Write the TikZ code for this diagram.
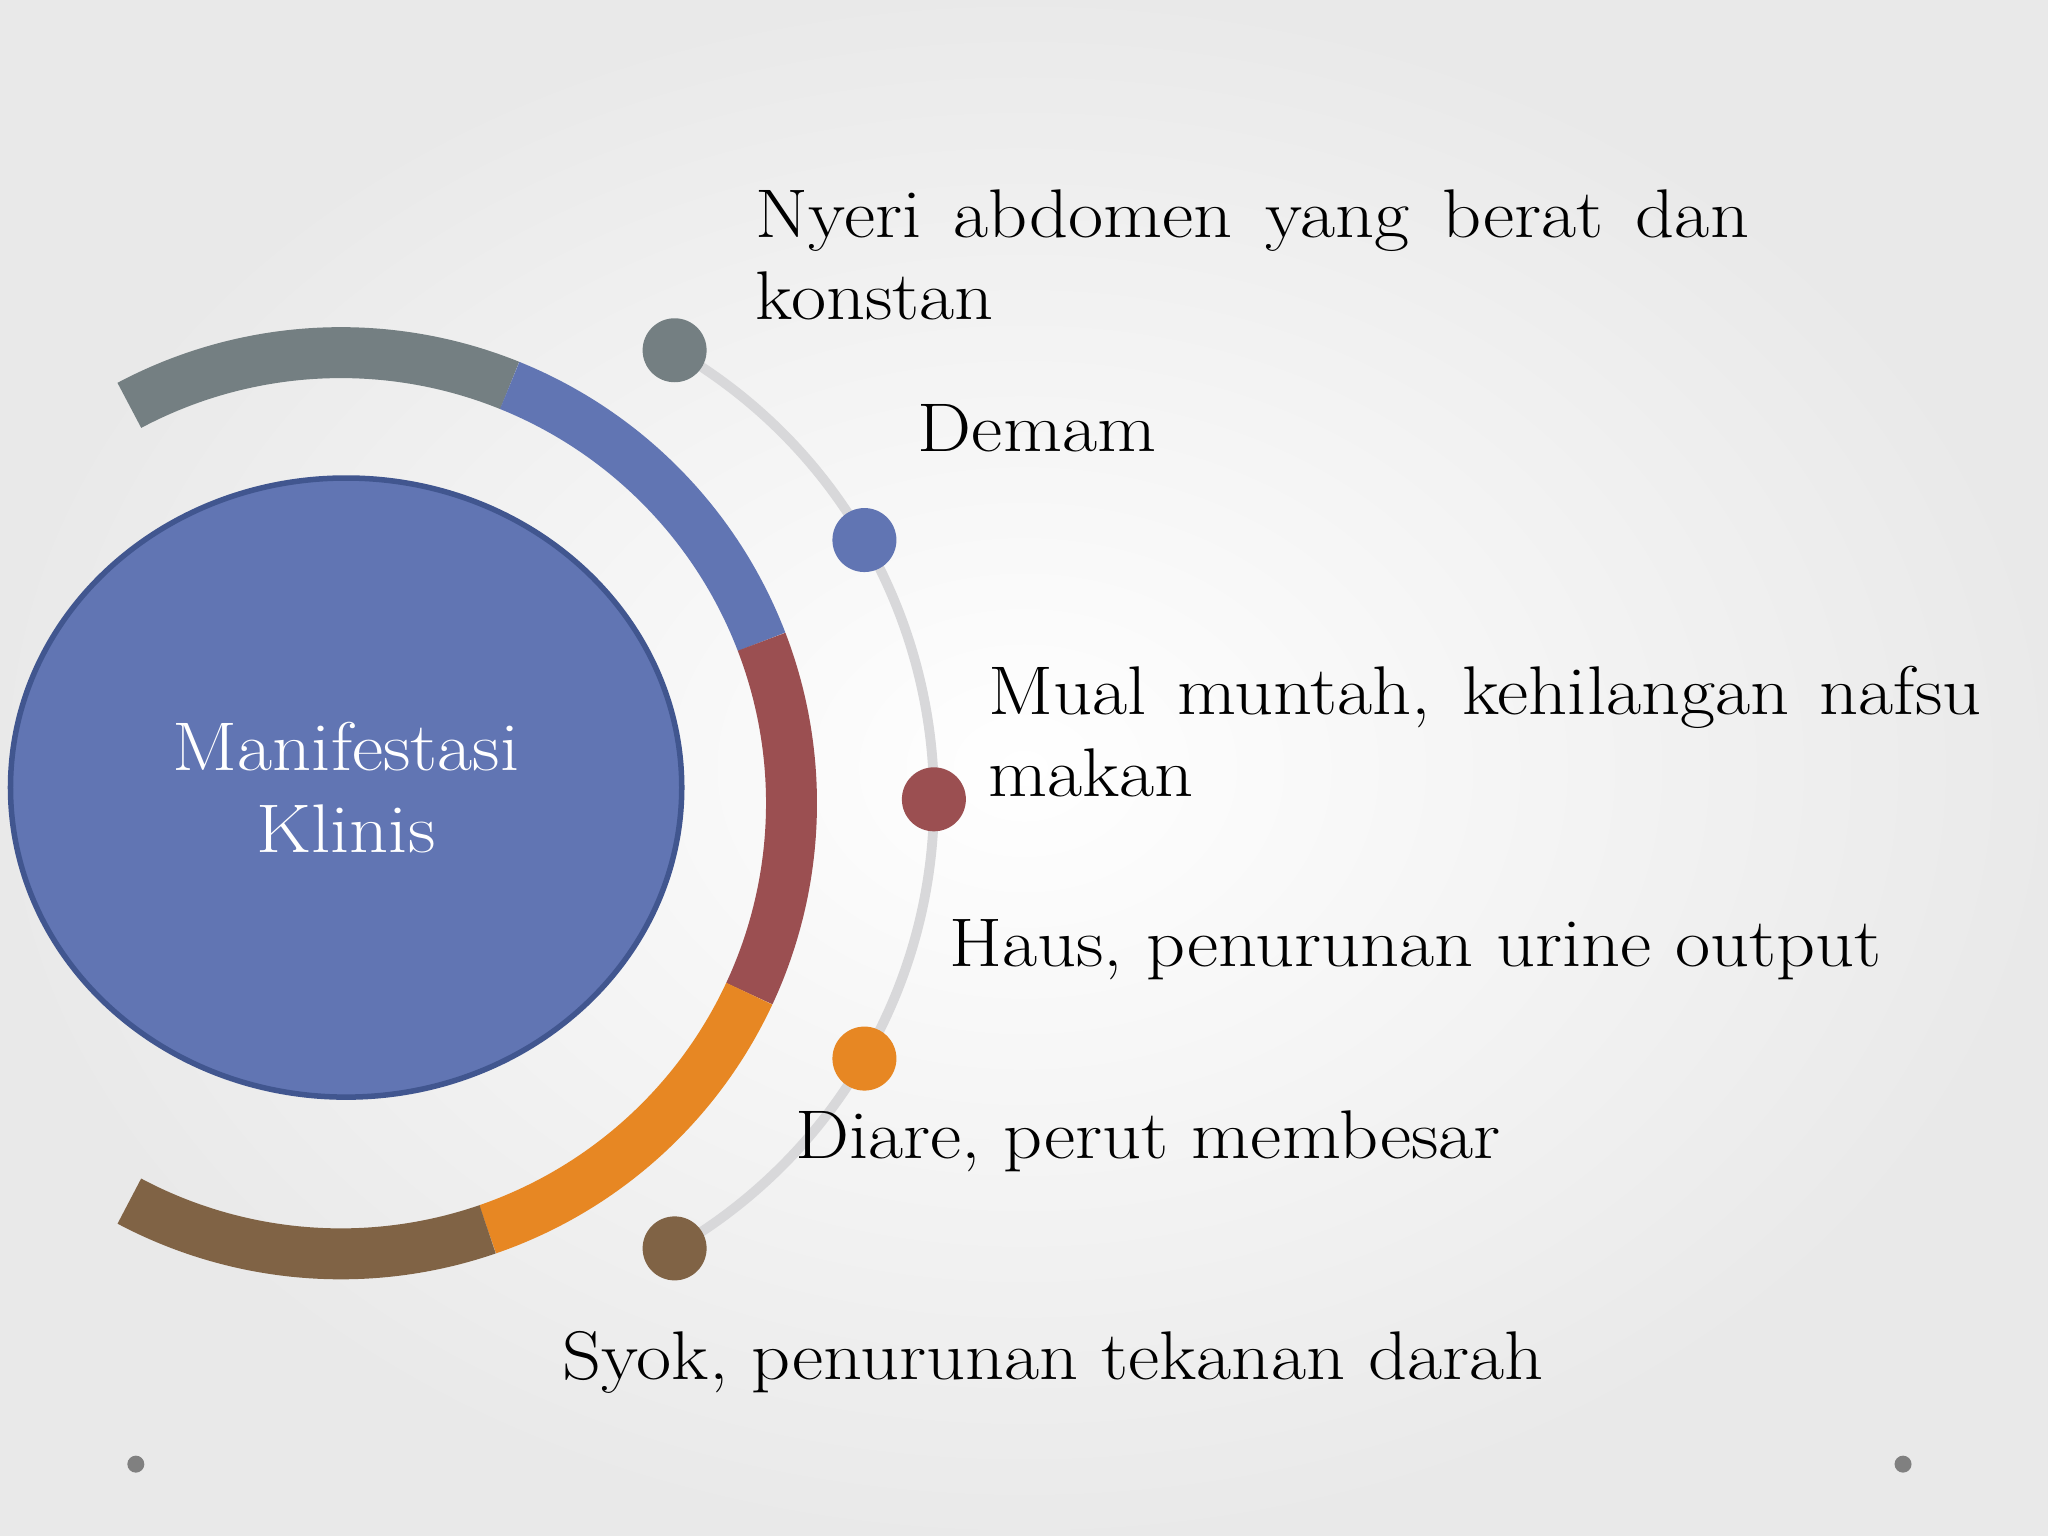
\documentclass[tikz,border=0pt]{standalone}
\usetikzlibrary{shapes.geometric,backgrounds}

\definecolor{slate}{HTML}{747F82}
\definecolor{bluish}{HTML}{6175B3}
\definecolor{bluedark}{HTML}{41568F}
\definecolor{brick}{HTML}{9B4F51}
\definecolor{amber}{HTML}{E78723}
\definecolor{umber}{HTML}{806345}
\definecolor{track}{HTML}{D8D8DA}

\hyphenpenalty=10000
\newcommand\itemfont{\fontsize{15}{17.9}\selectfont}

\tikzstyle{bead}=[circle,inner sep=0pt,minimum size=4.9mm]

\begin{document}
\begin{tikzpicture}[
band/.style={line width=3.9mm, line cap=butt},
trackline/.style={draw=track, line width=0.75mm},
symptom/.style={anchor=base west, inner sep=0pt, font=\itemfont, text=black,
                xscale=1.11, transform shape},
wrapped/.style={symptom, text width=6.85cm, align=justify}]
 \useasboundingbox (0,0) rectangle (15.68,11.76);
 \begin{scope}[on background layer]
 \shade[inner color=white, outer color=gray!17] (0,0) rectangle (15.68,11.76);
 \end{scope}

 \coordinate (ring) at (2.61,5.61);
 \coordinate (hub) at (3.18,5.64);

 % outer ring, five parts
 \draw[band, slate] ([shift={(118:3.45)}]ring) arc[start angle=118, end angle=68, radius=3.45];
 \draw[band, bluish] ([shift={(68:3.45)}]ring) arc[start angle=68, end angle=21, radius=3.45];
 \draw[band, brick] ([shift={(21:3.45)}]ring) arc[start angle=21, end angle=-25, radius=3.45];
 \draw[band, amber] ([shift={(-25:3.45)}]ring) arc[start angle=-25, end angle=-71, radius=3.45];
 \draw[band, umber] ([shift={(-71:3.45)}]ring) arc[start angle=-71, end angle=-118, radius=3.45];

 \node[ellipse, fill=bluish, draw=bluedark, line width=1.2pt, minimum width=4.63cm,
       minimum height=4.74cm, inner sep=0pt, align=center, text=white,
       font=\itemfont, xscale=1.11, transform shape] (core) at (2.65,5.73) {Manifestasi\\Klinis};

 \node[bead, fill=slate] (d1) at ([shift={(60:3.97)}]hub) {};
 \node[bead, fill=bluish] (d2) at ([shift={(30:3.97)}]hub) {};
 \node[bead, fill=brick] (d3) at ([shift={(0:3.97)}]hub) {};
 \node[bead, fill=amber] (d4) at ([shift={(-30:3.97)}]hub) {};
 \node[bead, fill=umber] (d5) at ([shift={(-60:3.97)}]hub) {};

 \begin{scope}[on background layer]
 \draw[trackline] (d1.center) arc[start angle=60, end angle=-60, radius=3.97];
 \end{scope}

 \node[wrapped] (nyeri) at (5.78,9.94) {Nyeri abdomen yang berat dan konstan};
 \node[symptom] (demam) at (7.02,8.30) {Demam};
 \node[wrapped] (mual) at (7.56,6.29) {Mual muntah, kehilangan nafsu makan};
 \node[symptom] (haus) at (7.26,4.36) {Haus, penurunan urine output};
 \node[symptom] (diare) at (6.08,2.89) {Diare, perut membesar};
 \node[symptom] (syok) at (4.30,1.20) {Syok, penurunan tekanan darah};

 \node[circle, fill=gray, inner sep=0pt, minimum size=1.3mm] (pinL) at (1.04,0.55) {};
 \node[circle, fill=gray, inner sep=0pt, minimum size=1.3mm] (pinR) at (14.57,0.55) {};
\end{tikzpicture}
\end{document}
